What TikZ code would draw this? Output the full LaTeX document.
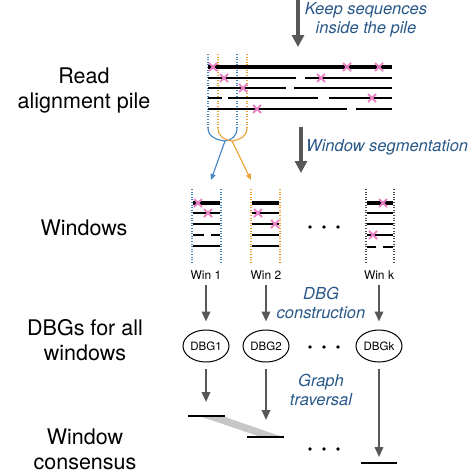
\documentclass[tikz,border=0pt]{standalone}
\usepackage{fontspec}
\setmainfont{TeX Gyre Heros}
\usepackage{tikz}
\usetikzlibrary{arrows.meta,shapes.geometric}

\definecolor{noteblue}{RGB}{40,88,136}
\definecolor{mispink}{RGB}{236,130,198}
\definecolor{winblue}{RGB}{62,132,192}
\definecolor{winorange}{RGB}{238,160,52}
\definecolor{arrgray}{RGB}{88,88,88}

\tikzset{
  lbl/.style={align=center,font=\fontsize{21.5}{25}\selectfont,inner sep=0pt},
  note/.style={align=center,text=noteblue,font=\fontsize{16.5}{19}\selectfont\itshape,inner sep=0pt},
  winlbl/.style={font=\fontsize{12}{14}\selectfont,inner sep=2pt},
  dbg/.style={ellipse,draw,line width=1pt,minimum width=46pt,minimum height=32pt,
    inner sep=0pt,font=\fontsize{11.5}{13}\selectfont},
  bigarrow/.style={draw=arrgray,line width=3.2pt,-{Triangle[length=12pt,width=12pt]}},
  garrow/.style={draw=arrgray,line width=2pt,-{Triangle[length=10pt,width=8.5pt]}},
  rd/.style={line width=2.2pt},
  rdtop/.style={line width=4.5pt},
  bdot/.style={winblue,line width=1.1pt,dash pattern=on 1pt off 1.6pt},
  odot/.style={winorange,line width=1.1pt,dash pattern=on 1pt off 1.6pt},
  kdot/.style={black!70,line width=1.1pt,dash pattern=on 1pt off 1.6pt}
}
% mismatch mark
\newcommand{\mism}[2]{\draw[mispink,line width=1.8pt] (#1-4,#2-4) -- (#1+4,#2+4) (#1-4,#2+4) -- (#1+4,#2-4);}
% three dots
\newcommand{\threedots}[1]{\foreach \d in {310,324,338} \fill (\d,#1) circle (1.9pt);}

\begin{document}
\begin{tikzpicture}[x=1pt,y=-1pt]
  \useasboundingbox (0,0) rectangle (474,474);

  % stage labels
  \node[lbl] (lread) at (84,91) {Read\\alignment pile};
  \node[lbl] (lwin) at (84,228) {Windows};
  \node[lbl] (ldbg) at (85,340) {DBGs for all\\windows};
  \node[lbl] (lcons) at (85,449) {Window\\consensus};

  % keep sequences
  \coordinate (k0) at (298,-2);
  \coordinate (k1) at (298,47);
  \draw[bigarrow] (k0) -- (k1);
  \node[note] (nkeep) at (366,19.5) {Keep sequences\\inside the pile};

  % the pile
  \draw[bdot] (208,54) -- (208,128) (237,54) -- (237,128);
  \draw[odot] (218,54) -- (218,128) (247,54) -- (247,128);
  \draw[rdtop] (208,67) -- (392,67);
  \draw[rd] (208,78) -- (296,78) (305,78) -- (392,78);
  \draw[rd] (208,88) -- (286,88) (294,88) -- (392,88);
  \draw[rd] (208,98) -- (222,98) (228,98) -- (318,98) (329,98) -- (392,98);
  \draw[rd] (208,109) -- (347,109) (356,109) -- (392,109);
  \mism{213}{67} \mism{347}{67} \mism{379}{67}
  \mism{224}{78} \mism{321}{78}
  \mism{243}{88}
  \mism{372}{98}
  \mism{257}{109}

  % window segmentation
  \draw[winblue,line width=1.1pt] (208,128) .. controls (208,137) and (217,140) .. (225,141);
  \draw[winblue,line width=1.1pt] (237,128) .. controls (237,137) and (231,140) .. (225,141);
  \draw[winorange,line width=1.1pt] (218,128) .. controls (218,137) and (225,140) .. (232,141);
  \draw[winorange,line width=1.1pt] (247,128) .. controls (247,137) and (239,140) .. (232,141);
  \draw[winblue,line width=1.1pt,-{Triangle[length=6pt,width=5pt]}] (225,141) -- (211,180);
  \draw[winorange,line width=1.1pt,-{Triangle[length=6pt,width=5pt]}] (232,141) -- (251,180);
  \coordinate (s0) at (301,127);
  \coordinate (s1) at (301,173);
  \draw[bigarrow] (s0) -- (s1);
  \node[note,anchor=west] (nseg) at (306,147) {Window segmentation};

  % windows
  \draw[bdot] (192,189) -- (192,262) (221,189) -- (221,262);
  \draw[rdtop] (193,203) -- (220,203);
  \draw[rd] (193,213) -- (220,213);
  \draw[rd] (193,224) -- (220,224);
  \draw[rd] (193,235) -- (204,235) (211,235) -- (220,235);
  \draw[rd] (193,246) -- (220,246);
  \mism{198}{203} \mism{208}{213}

  \draw[odot] (251,189) -- (251,262) (280,189) -- (280,262);
  \draw[rdtop] (252,203) -- (279,203);
  \draw[rd] (252,213) -- (279,213);
  \draw[rd] (252,224) -- (279,224);
  \draw[rd] (252,235) -- (279,235);
  \draw[rd] (252,246) -- (279,246);
  \mism{258}{213} \mism{275}{224}

  \threedots{227}

  \draw[kdot] (366,189) -- (366,262) (394,189) -- (394,262);
  \draw[rdtop] (367,203) -- (393,203);
  \draw[rd] (367,213) -- (393,213);
  \draw[rd] (367,224) -- (393,224);
  \draw[rd] (367,235) -- (393,235);
  \draw[rd] (367,247) -- (376,247) (383,247) -- (393,247);
  \mism{383}{203} \mism{373}{235}

  \node[winlbl] (w1) at (206,275) {Win 1};
  \node[winlbl] (w2) at (266,275) {Win 2};
  \node[winlbl] (wk) at (379,275) {Win k};

  % de Bruijn graphs
  \node[dbg] (d1) at (206,346) {DBG1};
  \node[dbg] (d2) at (266,346) {DBG2};
  \node[dbg] (dk) at (379,346) {DBGk};
  \threedots{347}
  \draw[garrow,shorten <=3pt,shorten >=8pt] (w1) -- (d1);
  \draw[garrow,shorten <=3pt,shorten >=8pt] (w2) -- (d2);
  \draw[garrow,shorten <=3pt,shorten >=8pt] (wk) -- (dk);
  \node[note] (ncons) at (321,303) {DBG\\construction};

  % consensus
  \coordinate (c1) at (206,416);
  \coordinate (c2) at (266,437);
  \coordinate (ck) at (379,463);
  \fill[black!22] (202,417) -- (225,417) -- (280,436) -- (258,436) -- cycle;
  \draw[rd] (188,416) -- (225,416);
  \draw[rd] (247,437) -- (284,437);
  \draw[rd] (361,463) -- (397,463);
  \threedots{449}
  \draw[garrow,shorten <=6pt,shorten >=14pt] (d1) -- (c1);
  \draw[garrow,shorten <=6pt,shorten >=17pt] (d2) -- (c2);
  \draw[garrow,shorten <=6pt,shorten >=6pt] (dk) -- (ck);
  \node[note] (ntrav) at (321,390) {Graph\\traversal};
\end{tikzpicture}
\end{document}
